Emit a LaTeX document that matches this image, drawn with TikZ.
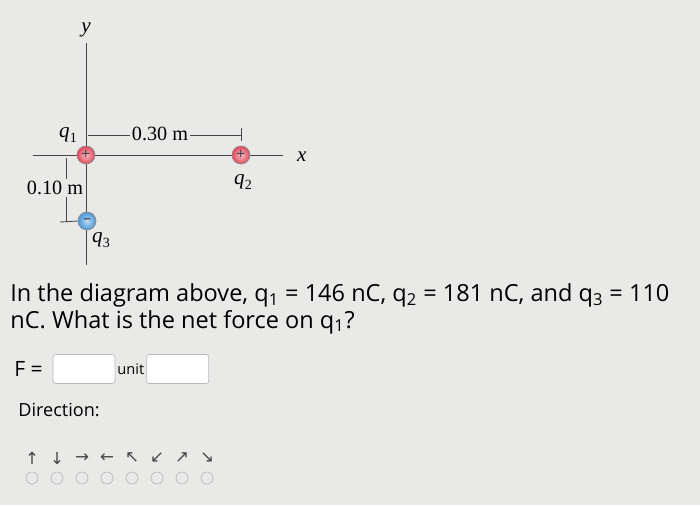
\documentclass[tikz,border=0pt]{standalone}
\usepackage{fontspec}
\setmainfont{Open Sans}
\newfontfamily\diagfont{Liberation Serif}
\newfontfamily\symfont{DejaVu Sans}
\usetikzlibrary{positioning}
\definecolor{bggrey}{RGB}{233,233,231}
\definecolor{plusred}{RGB}{226,70,90}
\definecolor{minusblue}{RGB}{70,150,215}
\definecolor{boxgrey}{RGB}{185,185,185}
\definecolor{inkgrey}{RGB}{70,70,70}
\newcommand{\qname}[1]{q\raisebox{-0.45ex}{\upshape\footnotesize #1}}

\begin{document}
\begin{tikzpicture}[x=0.02cm, y=-0.02cm,
	charge/.style={shape=circle, draw=black!45, inner sep=0pt, minimum size=0.36cm,
		font=\fontsize{9}{9}\selectfont, text=black!75},
	poscharge/.style={charge, inner color=plusred!35!white, outer color=plusred},
	negcharge/.style={charge, inner color=minusblue!35!white, outer color=minusblue},
	qlabel/.style={font=\diagfont\fontsize{12}{12}\selectfont\itshape},
	dimtext/.style={font=\diagfont\fontsize{11.5}{11.5}\selectfont, inner sep=1pt},
	ansbox/.style={draw=boxgrey, fill=white, rounded corners=1.5pt,
		minimum width=1.24cm, minimum height=0.58cm},
	radio/.style={shape=circle, draw=boxgrey, inner sep=0pt, minimum size=0.24cm}]
	\useasboundingbox[fill=bggrey] (0,0) rectangle (700,505);
	% axes
	\coordinate (xl) at (33,155);
	\coordinate (xr) at (283,155);
	\coordinate (yt) at (86,43);
	\coordinate (yb) at (86,265);
	\draw[inkgrey, line width=0.5pt] (xl) -- (xr);
	\draw[inkgrey, line width=0.5pt] (yt) -- (yb);
	\node[qlabel, anchor=west] (xlab) at (291,157) {x};
	\node[qlabel, anchor=south] (ylab) at (yt) {y};
	% charges
	\node[poscharge] (q1) at (86,155) {+};
	\node[poscharge] (q2) at (241,155) {+};
	\node[negcharge] (q3) at (87,221) {--};
	\node[qlabel] (q1lab) at (68,135) {\qname{1}};
	\node[qlabel] (q2lab) at (243,182) {\qname{2}};
	\node[qlabel] (q3lab) at (101,240) {\qname{3}};
	% dimensions
	\coordinate (d30l) at (88,135);
	\coordinate (d30r) at (241,135);
	\node[dimtext] (d30) at (160,134) {0.30 m};
	\draw[inkgrey, line width=0.5pt] (d30l) -- (d30.west |- d30l);
	\draw[inkgrey, line width=0.5pt] (d30.east |- d30r) -- (d30r);
	\draw[inkgrey, line width=0.5pt] (d30r) ++(0,-7) -- ++(0,13);
	\coordinate (d10t) at (66,158);
	\coordinate (d10b) at (66,222);
	\node[dimtext] (d10) at (55,188) {0.10 m};
	\draw[inkgrey, line width=0.5pt] (d10t) -- (d10.north -| d10t);
	\draw[inkgrey, line width=0.5pt] (d10.south -| d10b) -- (d10b);
	\draw[inkgrey, line width=0.5pt] (d10b) ++(-6,0) -- (q3.west);
	% question
	\node[anchor=north west, align=left, inner sep=0pt,
		font=\fontsize{13.4}{15.3}\selectfont] (question) at (10,283)
		{In the diagram above, q\textsubscript{1} = 146 nC, q\textsubscript{2} = 181 nC, and q\textsubscript{3} = 110\\
		nC. What is the net force on q\textsubscript{1}?};
	\node[anchor=west, inner sep=0pt, font=\fontsize{12}{12}\selectfont] (flab) at (14,369) {F =};
	\node[ansbox] (fbox) at (84,369) {};
	\node[anchor=west, inner sep=1pt, font=\fontsize{8.3}{8.3}\selectfont] (unit) at (fbox.east) {unit};
	\node[ansbox, anchor=west] (ubox) at (unit.east) {};
	\node[anchor=west, inner sep=0pt, font=\fontsize{10.3}{10.3}\selectfont] (dirlab) at (18,410) {Direction:};
	% direction choices
	\foreach \i/\a in {0/↑,1/↓,2/→,3/←,4/↖,5/↙,6/↗,7/↘} {
		\node[font=\symfont\fontsize{9.5}{9.5}\selectfont, text=inkgrey] (arr\i) at (32+25*\i,458) {\a};
		\node[radio] (rad\i) at (32+25*\i,478) {};
	}
\end{tikzpicture}
\end{document}
